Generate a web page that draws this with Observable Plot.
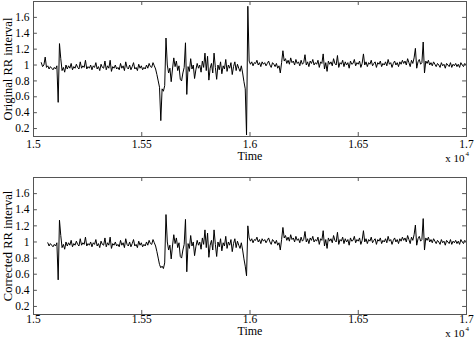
<!DOCTYPE html>
<html><head><meta charset="utf-8">
<script src="https://cdn.jsdelivr.net/npm/d3@7"></script>
<script src="https://cdn.jsdelivr.net/npm/@observablehq/plot@0.6"></script>
<style>
body{margin:0;background:#fff}
#chart svg{display:block}
</style>
</head><body><div id="chart"></div>
<script>
const xTicks = [15000, 15500, 16000, 16500, 17000];
const xTickLabels = ["1.5", "1.55", "1.6", "1.65", "1.7"];
const yTicks = [0.2, 0.4, 0.6, 0.8, 1, 1.2, 1.4, 1.6];
const yTickLabels = ["0.2", "0.4", "0.6", "0.8", "1", "1.2", "1.4", "1.6"];
const panelLabels = ["Original RR interval", "Corrected RR interval"];
const xLabel = "Time";
const originalStart = 15036;
const correctedStart = 15066;
const sampleStep = 6;

const original = [
1.03,0.98,1.00,1.10,0.97,0.99,0.95,0.98,0.96,0.94,
0.97,0.95,0.99,0.53,1.27,1.08,0.93,0.97,0.91,1.00,
0.95,0.99,0.96,1.02,0.94,0.98,0.96,1.01,0.97,0.95,
1.04,0.96,0.99,0.97,1.06,0.95,0.98,0.96,1.00,0.94,
0.99,0.97,1.03,0.95,0.98,0.93,1.01,0.97,0.96,1.05,
0.94,0.99,0.96,1.06,0.92,0.98,0.96,1.00,0.95,0.97,
0.94,1.02,0.96,0.99,0.93,1.04,0.97,0.95,1.00,0.94,
0.98,1.03,0.95,0.97,0.93,1.01,0.96,0.99,0.94,0.97,
0.95,1.00,0.96,1.02,0.98,0.97,1.03,0.99,0.95,0.88,
0.80,0.72,0.30,0.70,0.67,0.74,1.34,1.00,0.90,0.96,
0.79,0.95,1.09,0.98,1.05,0.93,0.99,0.82,0.80,0.90,
0.97,1.28,0.63,0.98,0.92,1.08,0.95,1.00,0.83,0.94,
1.02,0.96,1.00,0.91,1.05,0.97,1.15,0.93,1.11,0.81,
0.96,1.02,0.90,1.15,0.97,0.82,1.00,0.94,1.04,0.89,
0.99,0.95,1.07,0.92,1.00,0.96,1.03,0.88,0.98,1.04,
0.93,1.01,0.96,0.92,0.99,0.90,0.79,0.70,0.12,1.74,
1.05,1.01,1.04,0.99,1.03,1.02,1.06,1.00,1.03,0.98,
1.04,1.01,1.03,0.99,1.02,1.05,1.00,0.97,1.03,1.01,
0.98,1.02,0.96,0.99,0.90,1.03,1.18,1.05,1.08,1.02,
1.06,1.01,1.09,1.03,1.05,1.00,1.07,1.02,1.04,0.99,
1.06,1.01,1.03,1.13,1.00,1.04,0.98,1.05,1.02,1.07,
1.00,1.03,1.01,1.06,0.97,1.04,1.02,1.14,0.95,1.03,
0.92,1.05,1.01,1.04,0.99,1.08,1.02,1.00,1.12,0.97,
1.03,1.01,1.06,0.98,1.04,1.00,1.03,0.96,1.05,1.01,
1.02,1.07,0.99,1.03,1.01,1.05,0.97,1.02,1.14,1.00,
1.04,0.98,1.03,1.01,1.06,0.99,1.02,1.04,0.97,1.03,
1.01,1.05,0.98,1.02,1.00,1.04,0.99,1.07,1.01,1.03,
0.97,1.02,1.05,1.00,1.03,0.98,1.04,1.01,1.06,1.02,
1.05,1.00,1.08,1.03,0.98,1.06,1.02,1.09,1.21,0.96,
1.04,1.07,1.01,1.03,1.29,0.90,1.05,1.02,1.06,1.00,
1.03,0.99,1.04,1.01,0.98,1.02,1.00,0.97,1.03,0.99,
1.01,0.96,1.02,1.00,0.98,1.03,0.97,1.01,0.99,1.02,
0.98,1.01,0.97,1.03,1.00,0.98,1.02,1.00
];

const corrected = [
0.99,0.95,0.98,0.96,0.94,
0.97,0.95,0.99,0.53,1.27,1.08,0.93,0.97,0.91,1.00,
0.95,0.99,0.96,1.02,0.94,0.98,0.96,1.01,0.97,0.95,
1.04,0.96,0.99,0.97,1.06,0.95,0.98,0.96,1.00,0.94,
0.99,0.97,1.03,0.95,0.98,0.93,1.01,0.97,0.96,1.05,
0.94,0.99,0.96,1.06,0.92,0.98,0.96,1.00,0.95,0.97,
0.94,1.02,0.96,0.99,0.93,1.04,0.97,0.95,1.00,0.94,
0.98,1.03,0.95,0.97,0.93,1.01,0.96,0.99,0.94,0.97,
0.95,1.00,0.96,1.02,0.98,0.97,1.03,0.99,0.95,0.88,
0.80,0.72,0.68,0.70,0.67,0.74,1.34,1.00,0.90,0.96,
0.79,0.95,1.09,0.98,1.05,0.93,0.99,0.82,0.80,0.90,
0.97,1.28,0.63,0.98,0.92,1.08,0.95,1.00,0.83,0.94,
1.02,0.96,1.00,0.91,1.05,0.97,1.15,0.93,1.11,0.81,
0.96,1.02,0.90,1.15,0.97,0.82,1.00,0.94,1.04,0.89,
0.99,0.95,1.07,0.92,1.00,0.96,1.03,0.88,0.98,1.04,
0.93,1.01,0.96,0.92,0.99,0.90,0.79,0.70,0.58,1.20,
1.05,1.01,1.04,0.99,1.03,1.02,1.06,1.00,1.03,0.98,
1.04,1.01,1.03,0.99,1.02,1.05,1.00,0.97,1.03,1.01,
0.98,1.02,0.96,0.99,0.90,1.03,1.18,1.05,1.08,1.02,
1.06,1.01,1.09,1.03,1.05,1.00,1.07,1.02,1.04,0.99,
1.06,1.01,1.03,1.13,1.00,1.04,0.98,1.05,1.02,1.07,
1.00,1.03,1.01,1.06,0.97,1.04,1.02,1.14,0.95,1.03,
0.92,1.05,1.01,1.04,0.99,1.08,1.02,1.00,1.12,0.97,
1.03,1.01,1.06,0.98,1.04,1.00,1.03,0.96,1.05,1.01,
1.02,1.07,0.99,1.03,1.01,1.05,0.97,1.02,1.14,1.00,
1.04,0.98,1.03,1.01,1.06,0.99,1.02,1.04,0.97,1.03,
1.01,1.05,0.98,1.02,1.00,1.04,0.99,1.07,1.01,1.03,
0.97,1.02,1.05,1.00,1.03,0.98,1.04,1.01,1.06,1.02,
1.05,1.00,1.08,1.03,0.98,1.06,1.02,1.09,1.21,0.96,
1.04,1.07,1.01,1.03,1.29,0.90,1.05,1.02,1.06,1.00,
1.03,0.99,1.04,1.01,0.98,1.02,1.00,0.97,1.03,0.99,
1.01,0.96,1.02,1.00,0.98,1.03,0.97,1.01,0.99,1.02,
0.98,1.01,0.97,1.03,1.00,0.98,1.02,1.00
];

const font = "'Liberation Serif', 'Times New Roman', serif";

function panel(values, start, yLabel, opts) {
  const data = values.map((v, i) => ({time: start + i * sampleStep, rr: v}));
  const [x0, x1] = [xTicks[0], xTicks[xTicks.length - 1]];
  const [y0, y1] = [0.1, 1.8];
  return Plot.plot({
    width: 474,
    height: opts.height,
    marginLeft: 33,
    marginRight: 8,
    marginTop: opts.mt,
    marginBottom: opts.mb,
    style: {fontFamily: font, fontSize: "12px", background: "#fff", color: "#000", overflow: "visible"},
    x: {domain: [x0, x1], label: null},
    y: {domain: [y0, y1], label: null},
    marks: [
      Plot.line(data, {x: "time", y: "rr", stroke: "#000", strokeWidth: 1}),
      Plot.frame({stroke: "#555", strokeWidth: 1}),
      Plot.ruleX(xTicks, {x: d => d, y1: y0, y2: y0 + 0.05, stroke: "#555"}),
      Plot.ruleX(xTicks, {x: d => d, y1: y1, y2: y1 - 0.05, stroke: "#555"}),
      Plot.ruleY(yTicks, {y: d => d, x1: x0, x2: x0 + 18, stroke: "#555"}),
      Plot.ruleY(yTicks, {y: d => d, x1: x1, x2: x1 - 18, stroke: "#555"}),
      Plot.axisX({ticks: xTicks, tickFormat: d => xTickLabels[xTicks.indexOf(d)], tickSize: 0, tickPadding: opts.xpad, fontSize: 11.5}),
      Plot.axisY({ticks: yTicks, tickFormat: d => yTickLabels[yTicks.indexOf(d)], tickSize: 0, tickPadding: 4, fontSize: 11.5}),
      Plot.text([yLabel], {frameAnchor: "left", textAnchor: "middle", rotate: -90, dx: -26, fontSize: 12.5}),
      Plot.text([xLabel], {frameAnchor: "bottom", textAnchor: "middle", dy: opts.labelDy, fontSize: 12}),
      Plot.text(["x 10"], {frameAnchor: "bottom-right", textAnchor: "end", dx: -2, dy: opts.labelDy + 2, fontSize: 11}),
      Plot.text(["4"], {frameAnchor: "bottom-right", textAnchor: "start", dx: -1, dy: opts.labelDy - 4, fontSize: 7})
    ]
  });
}

const root = document.getElementById("chart");
root.append(panel(original, originalStart, panelLabels[0], {height: 170, mt: 1, mb: 34, xpad: 3, labelDy: 23}));
root.append(panel(corrected, correctedStart, panelLabels[1], {height: 169, mt: 7, mb: 25, xpad: 0, labelDy: 20.5}));
</script>
</body></html>
